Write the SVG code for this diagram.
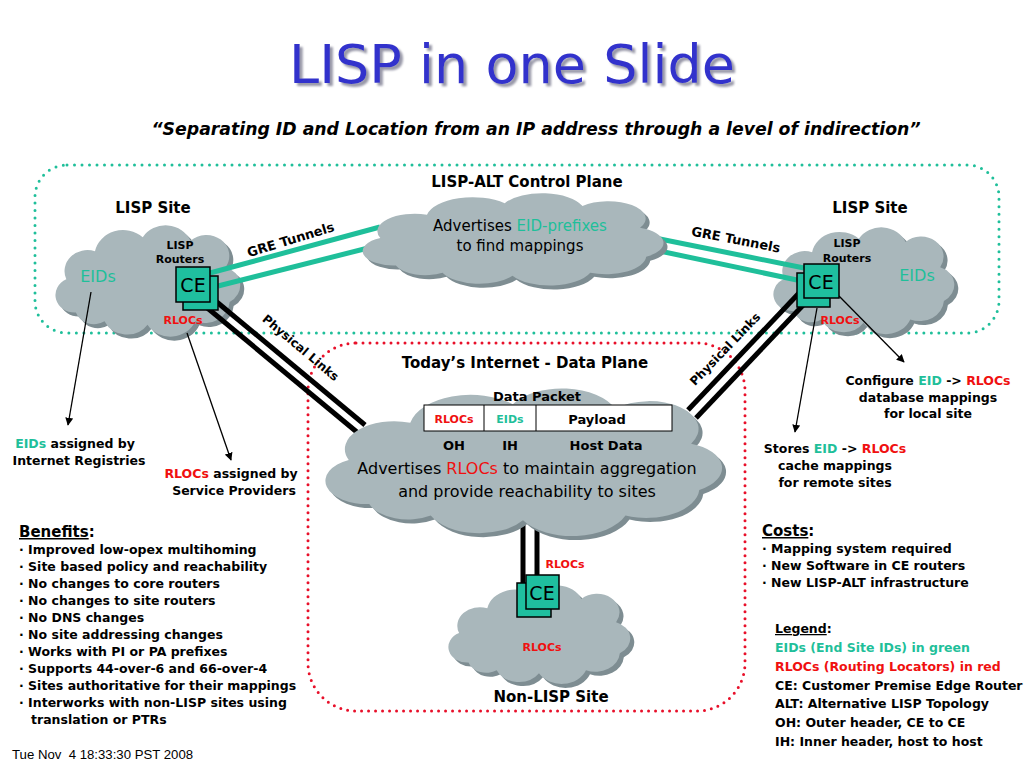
<svg xmlns="http://www.w3.org/2000/svg" xmlns:xlink="http://www.w3.org/1999/xlink" width="1024" height="768" viewBox="0 0 1024 768">
<style>
text{font-family:"DejaVu Sans","Liberation Sans",sans-serif;fill:#000}
.b{font-weight:bold}
.lbl{font-size:15px;font-weight:bold}
.sm{font-size:11px;font-weight:bold}
.body{font-size:12.5px;font-weight:bold}
.big{font-size:16px}
.teal{fill:#1FBF9A}
.red{fill:#F01010}
.cloud{fill:#A9B7BB}
.shadow{fill:#7E8D92}
.ce{fill:#1FBF9F;stroke:#000;stroke-width:1.5}
.cetxt{font-size:19px;text-anchor:middle}
.gre{stroke:#1FBF9A;stroke-width:5;fill:none}
.phys{stroke:#000;stroke-width:5;fill:none}
.arr{stroke:#000;stroke-width:1.3;fill:none;marker-end:url(#ah)}
.mid{text-anchor:middle}
</style>
<defs>
<path id="cl" d="M25,100 A20,20 0 0 1 15,62 A24,24 0 0 1 45,30 A30,30 0 0 1 95,14 A28,28 0 0 1 145,18 A24,24 0 0 1 182,48 A22,22 0 0 1 186,88 A26,26 0 0 1 150,110 A28,28 0 0 1 100,114 A26,26 0 0 1 55,110 A20,20 0 0 1 25,100 Z"/>
<marker id="ah" viewBox="0 0 10 10" refX="9" refY="5" markerWidth="8" markerHeight="8" orient="auto" markerUnits="userSpaceOnUse"><path d="M0,0 L10,5 L0,10 Z" fill="#000"/></marker>
<filter id="ts" x="-10%" y="-20%" width="120%" height="150%">
<feGaussianBlur in="SourceAlpha" stdDeviation="1.2" result="b"/>
<feOffset in="b" dx="3" dy="3" result="o"/>
<feFlood flood-color="#9898A8"/>
<feComposite in2="o" operator="in" result="s"/>
<feMerge><feMergeNode in="s"/><feMergeNode in="SourceGraphic"/></feMerge>
</filter>
</defs>
<rect width="1024" height="768" fill="#fff"/>

<g id="title">
<text x="512" y="83" class="mid" filter="url(#ts)" style="font-size:54px;fill:#3333CC">LISP in one Slide</text>
<text x="536" y="135" class="mid b" style="font-size:17.3px;font-style:italic">“Separating ID and Location from an IP address through a level of indirection”</text>
</g>

<g id="regions">
<rect x="35" y="165" width="964" height="168" rx="32" fill="none" stroke="#1FBF9A" stroke-width="3" stroke-dasharray="0 7.5" stroke-linecap="round"/>
<rect x="308" y="343" width="437" height="368" rx="48" fill="none" stroke="#E8102A" stroke-width="3" stroke-dasharray="0 7" stroke-linecap="round"/>
</g>

<g id="left-site">
<use xlink:href="#cl" class="shadow" transform="translate(56,229) scale(0.955,0.875)"/>
<use xlink:href="#cl" class="cloud" transform="translate(52,225) scale(0.955,0.875)"/>
<text x="153" y="213" class="lbl mid">LISP Site</text>
<text x="98" y="282" class="big mid teal">EIDs</text>
<text x="180" y="249" class="sm mid">LISP</text>
<text x="180" y="263" class="sm mid">Routers</text>
<text x="183" y="324" class="sm mid red">RLOCs</text>
</g>

<g id="right-site">
<use xlink:href="#cl" class="shadow" transform="translate(774,231) scale(0.935,0.84)"/>
<use xlink:href="#cl" class="cloud" transform="translate(770,227) scale(0.935,0.84)"/>
<text x="870" y="213" class="lbl mid">LISP Site</text>
<text x="917" y="281" class="big mid teal">EIDs</text>
<text x="847" y="247" class="sm mid">LISP</text>
<text x="847" y="262" class="sm mid">Routers</text>
<text x="840" y="324" class="sm mid red">RLOCs</text>
</g>

<g id="non-lisp-site">
<use xlink:href="#cl" class="shadow" transform="translate(449,589) scale(0.94,0.775)"/>
<use xlink:href="#cl" class="cloud" transform="translate(445,585) scale(0.94,0.775)"/>
<text x="542" y="651" class="sm mid red">RLOCs</text>
<text x="551" y="702" class="lbl mid">Non-LISP Site</text>
</g>

<g id="connectors">
<line class="gre" x1="210" y1="273" x2="380" y2="227"/>
<line class="gre" x1="218" y1="286" x2="380" y2="245"/>
<line class="gre" x1="650" y1="237" x2="804" y2="268"/>
<line class="gre" x1="650" y1="249" x2="797" y2="280"/>
<line class="phys" x1="212" y1="298" x2="365" y2="425"/>
<line class="phys" x1="205" y1="306" x2="358" y2="433"/>
<line class="phys" x1="800" y1="292" x2="688" y2="410"/>
<line class="phys" x1="808" y1="300" x2="696" y2="418"/>
<line class="phys" x1="523" y1="515" x2="523" y2="584"/>
<line class="phys" x1="537" y1="515" x2="537" y2="576"/>
<line class="arr" x1="91" y1="292" x2="68" y2="425"/>
<line class="arr" x1="187" y1="333" x2="231" y2="460"/>
<line class="arr" x1="817" y1="308" x2="795" y2="432"/>
<line class="arr" x1="839" y1="296" x2="904" y2="362"/>
<text class="b mid" style="font-size:13px" transform="translate(292,244) rotate(-17)">GRE Tunnels</text>
<text class="b mid" style="font-size:13px" transform="translate(735,244) rotate(11)">GRE Tunnels</text>
<text class="b mid" style="font-size:12px" transform="translate(298,351) rotate(40)">Physical Links</text>
<text class="b mid" style="font-size:12px" transform="translate(728,352) rotate(-46)">Physical Links</text>
<text x="565" y="568" class="sm mid red">RLOCs</text>
</g>

<g id="control-plane">
<use xlink:href="#cl" class="shadow" transform="translate(361,197) scale(1.555,0.725)"/>
<use xlink:href="#cl" class="cloud" transform="translate(357,193) scale(1.555,0.725)"/>
<text x="527" y="187" class="lbl mid">LISP-ALT Control Plane</text>
<text x="520" y="231" class="mid" style="font-size:15px">Advertises <tspan class="teal">EID-prefixes</tspan></text>
<text x="520" y="251" class="mid" style="font-size:15px">to find mappings</text>
</g>

<g id="data-plane">
<use xlink:href="#cl" class="shadow" transform="translate(322,392) scale(2.05,1.16)"/>
<use xlink:href="#cl" class="cloud" transform="translate(318,388) scale(2.05,1.16)"/>
<text x="525" y="368" class="lbl mid">Today’s Internet - Data Plane</text>
<text x="537" y="401" class="b mid" style="font-size:13px">Data Packet</text>
<rect x="424" y="405" width="248" height="26" fill="#fff" stroke="#000" stroke-width="1"/>
<line x1="484" y1="405" x2="484" y2="431" stroke="#000"/>
<line x1="536" y1="405" x2="536" y2="431" stroke="#000"/>
<text x="454" y="423" class="b mid red" style="font-size:11px">RLOCs</text>
<text x="510" y="423" class="b mid teal" style="font-size:11px">EIDs</text>
<text x="597" y="424" class="b mid" style="font-size:13px">Payload</text>
<text x="454" y="450" class="b mid" style="font-size:13px">OH</text>
<text x="510" y="450" class="b mid" style="font-size:13px">IH</text>
<text x="606" y="450" class="b mid" style="font-size:13px">Host Data</text>
<text x="527" y="474" class="mid big">Advertises <tspan class="red">RLOCs</tspan> to maintain aggregation</text>
<text x="527" y="497" class="mid big">and provide reachability to sites</text>
</g>

<g id="ce-left">
<rect class="ce" x="183" y="276" width="35" height="34"/>
<rect class="ce" x="176" y="267" width="34" height="35"/>
<text x="193" y="292" class="cetxt">CE</text>
</g>
<g id="ce-right">
<rect class="ce" x="797" y="273" width="33" height="34"/>
<rect class="ce" x="804" y="264" width="35" height="34"/>
<text x="821" y="289" class="cetxt">CE</text>
</g>
<g id="ce-bottom">
<rect class="ce" x="517" y="583" width="34" height="34"/>
<rect class="ce" x="526" y="575" width="33" height="34"/>
<text x="542" y="600" class="cetxt">CE</text>
</g>

<g id="notes-left">
<text x="75" y="448" class="body mid"><tspan class="teal">EIDs</tspan> assigned by</text>
<text x="79" y="465" class="body mid">Internet Registries</text>
<text x="231" y="478" class="body mid"><tspan class="red">RLOCs</tspan> assigned by</text>
<text x="234" y="495" class="body mid">Service Providers</text>
</g>

<g id="notes-right">
<text x="928" y="385" class="body mid">Configure <tspan class="teal">EID</tspan> -&gt; <tspan class="red">RLOCs</tspan></text>
<text x="928" y="402" class="body mid">database mappings</text>
<text x="928" y="418" class="body mid">for local site</text>
<text x="835" y="453" class="body mid">Stores <tspan class="teal">EID</tspan> -&gt; <tspan class="red">RLOCs</tspan></text>
<text x="835" y="470" class="body mid">cache mappings</text>
<text x="835" y="487" class="body mid">for remote sites</text>
</g>

<g id="benefits">
<text x="19" y="537" class="b" style="font-size:15px"><tspan text-decoration="underline">Benefits</tspan>:</text>
<g class="body">
<text x="19" y="554">· Improved low-opex multihoming</text>
<text x="19" y="571">· Site based policy and reachability</text>
<text x="19" y="588">· No changes to core routers</text>
<text x="19" y="605">· No changes to site routers</text>
<text x="19" y="622">· No DNS changes</text>
<text x="19" y="639">· No site addressing changes</text>
<text x="19" y="656">· Works with PI or PA prefixes</text>
<text x="19" y="673">· Supports 44-over-6 and 66-over-4</text>
<text x="19" y="690">· Sites authoritative for their mappings</text>
<text x="19" y="707">· Interworks with non-LISP sites using</text>
<text x="31" y="724">translation or PTRs</text>
</g>
<text x="12" y="759" style="font-family:'Liberation Sans',Arial,sans-serif;font-size:13.2px;white-space:pre">Tue Nov  4 18:33:30 PST 2008</text>
</g>

<g id="costs">
<text x="762" y="536" class="b" style="font-size:15px"><tspan text-decoration="underline">Costs</tspan>:</text>
<g class="body">
<text x="762" y="553">· Mapping system required</text>
<text x="762" y="570">· New Software in CE routers</text>
<text x="762" y="587">· New LISP-ALT infrastructure</text>
</g>
</g>

<g id="legend" class="body">
<text x="775" y="633"><tspan text-decoration="underline">Legend</tspan>:</text>
<text x="775" y="652" class="teal">EIDs (End Site IDs) in green</text>
<text x="775" y="671" class="red">RLOCs (Routing Locators) in red</text>
<text x="775" y="690">CE: Customer Premise Edge Router</text>
<text x="775" y="708">ALT: Alternative LISP Topology</text>
<text x="775" y="727">OH: Outer header, CE to CE</text>
<text x="775" y="746">IH: Inner header, host to host</text>
</g>
</svg>
